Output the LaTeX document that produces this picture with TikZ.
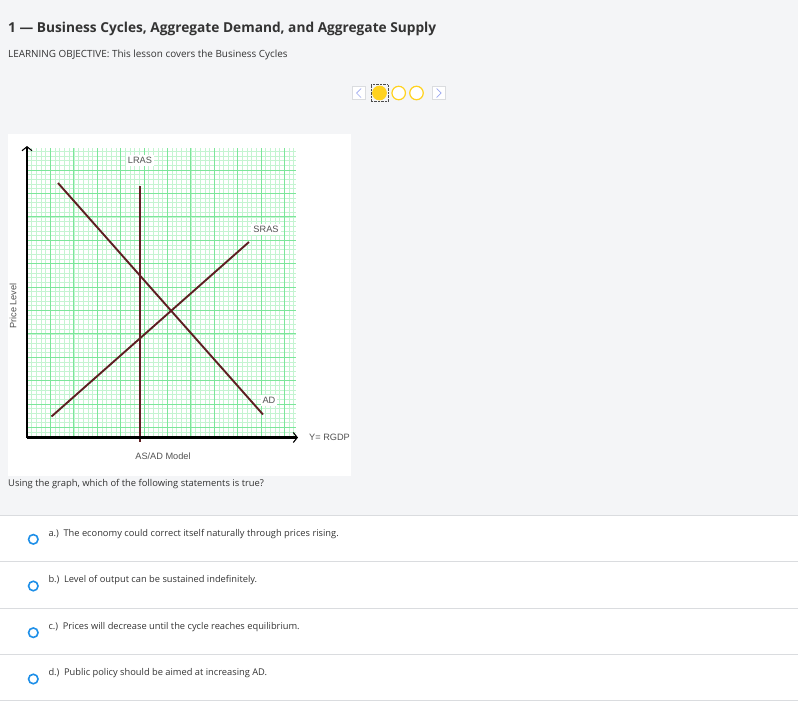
\documentclass[tikz,border=0pt]{standalone}
\usepackage{fontspec}
\setmainfont{Open Sans}
\newfontfamily\graphfont{Liberation Sans}
\usetikzlibrary{arrows.meta}

\definecolor{pagebg}{HTML}{F4F5F7}
\definecolor{textgray}{HTML}{333333}
\definecolor{minorgreen}{HTML}{C4F4D1}
\definecolor{majorgreen}{HTML}{7CE69A}
\definecolor{curvered}{HTML}{5E1F22}
\definecolor{radioblue}{HTML}{1E8FE8}
\definecolor{dotyellow}{HTML}{FFD21F}
\definecolor{rulegray}{HTML}{DADCDF}
\definecolor{chevron}{HTML}{9AA6F0}

\tikzset{
	pagetext/.style={inner sep=0pt, text=textgray, anchor=west},
	curve/.style={draw=curvered, line width=1.9pt},
	axisline/.style={draw=black, line width=2.2pt, -{Straight Barb[length=4pt,width=10pt,line width=1.1pt]}},
	curvelabel/.style={fill=white, inner sep=2pt, text=textgray!85, font=\graphfont\fontsize{9.2}{10}\selectfont},
	navbox/.style={draw=rulegray, fill=white, minimum size=13pt, inner sep=0pt},
	navmark/.style={draw=chevron, line width=0.7pt},
	navdot/.style={circle, draw=dotyellow, line width=1.2pt, minimum size=13.5pt, inner sep=0pt},
	radio/.style={circle, draw=radioblue, line width=1.6pt, minimum size=9.5pt, inner sep=0pt},
	option/.style={pagetext, font=\fontsize{9.3}{10}\selectfont}
}

\begin{document}
\begin{tikzpicture}[x=1pt, y=-1pt]
	\useasboundingbox (0,0) rectangle (798,702);
	\fill[pagebg] (0,0) rectangle (798,702);

	% heading
	\node[pagetext, font=\bfseries\fontsize{13.7}{15}\selectfont] (title) at (8,28.5)
		{1 --- Business Cycles, Aggregate Demand, and Aggregate Supply};
	\node[pagetext, font=\fontsize{9.9}{10}\selectfont] (objective) at (8,55)
		{LEARNING OBJECTIVE: This lesson covers the Business Cycles};

	% slide navigation
	\node[navbox] (navprev) at (359,93) {};
	\draw[navmark] ([xshift=2pt,yshift=4.5pt]navprev.center) -- ([xshift=-2.5pt]navprev.center) -- ([xshift=2pt,yshift=-4.5pt]navprev.center);
	\node[navdot, fill=dotyellow] (dot1) at (379.5,93) {};
	\draw[densely dotted, black!70] (371,84.5) rectangle (388,101.5);
	\node[navdot, fill=white] (dot2) at (398.7,93) {};
	\node[navdot, fill=white] (dot3) at (416.5,93) {};
	\node[navbox] (navnext) at (438.7,93) {};
	\draw[navmark] ([xshift=-2pt,yshift=4.5pt]navnext.center) -- ([xshift=2.5pt]navnext.center) -- ([xshift=-2pt,yshift=-4.5pt]navnext.center);

	% graph picture
	\fill[white] (8,134) rectangle (351,476);
	\begin{scope}
		\clip (28,148) rectangle (296,438);
		\foreach \i in {0,...,57}
			\draw[minorgreen, line width=0.6pt] ({27+\i*4.68},148) -- ({27+\i*4.68},438);
		\foreach \j in {0,...,62}
			\draw[minorgreen, line width=0.6pt] (28,{146.6+\j*4.68}) -- (296,{146.6+\j*4.68});
		\foreach \i in {0,...,11}
			\draw[majorgreen, line width=0.8pt] ({27+\i*23.4},148) -- ({27+\i*23.4},438);
		\foreach \j in {0,...,12}
			\draw[majorgreen, line width=0.8pt] (28,{146.6+\j*23.4}) -- (296,{146.6+\j*23.4});
	\end{scope}

	\coordinate (origin) at (27,437.5);
	\coordinate (ytip) at (27,146);
	\coordinate (xtip) at (298,437.5);
	\coordinate (lrastop) at (140,186);
	\coordinate (lrasbot) at (140,442);
	\coordinate (adtop) at (58,183);
	\coordinate (adbot) at (263,414.5);
	\coordinate (srasbot) at (51.5,416.5);
	\coordinate (srastop) at (249,242);

	\draw[curve] (lrastop) -- (lrasbot);
	\draw[curve] (adtop) -- (adbot);
	\draw[curve] (srasbot) -- (srastop);
	\draw[axisline] (origin) -- (ytip);
	\draw[axisline] (origin) -- (xtip);

	\node[curvelabel] (lras) at (140,160.5) {LRAS};
	\node[curvelabel] (sras) at (266,229.5) {SRAS};
	\node[curvelabel] (ad) at (269,400.5) {AD};
	\node[curvelabel, anchor=west, inner sep=1pt] (xlabel) at (308,437.5) {Y= RGDP};
	\node[curvelabel] (title2) at (163,456) {AS/AD Model};
	\node[curvelabel, fill=none, rotate=90] (ylabel) at (13,306) {Price Level};

	% question
	\node[pagetext, font=\fontsize{9.4}{10}\selectfont] (question) at (8,484)
		{Using the graph, which of the following statements is true?};

	% answer panel
	\fill[white] (0,515) rectangle (798,702);
	\foreach \y in {515,561.7,608.3,654.5,700.5}
		\draw[rulegray, line width=0.8pt] (0,\y) -- (798,\y);

	\node[radio] (radioa) at (33.3,539.3) {};
	\node[radio] (radiob) at (33.3,586) {};
	\node[radio] (radioc) at (33.3,632.7) {};
	\node[radio] (radiod) at (33.3,679) {};

	\node[option] (opta) at (48.3,534) {a.)\enspace The economy could correct itself naturally through prices rising.};
	\node[option] (optb) at (48.3,580.5) {b.)\enspace Level of output can be sustained indefinitely.};
	\node[option] (optc) at (48.3,627) {c.)\enspace Prices will decrease until the cycle reaches equilibrium.};
	\node[option] (optd) at (48.3,673.5) {d.)\enspace Public policy should be aimed at increasing AD.};
\end{tikzpicture}
\end{document}
